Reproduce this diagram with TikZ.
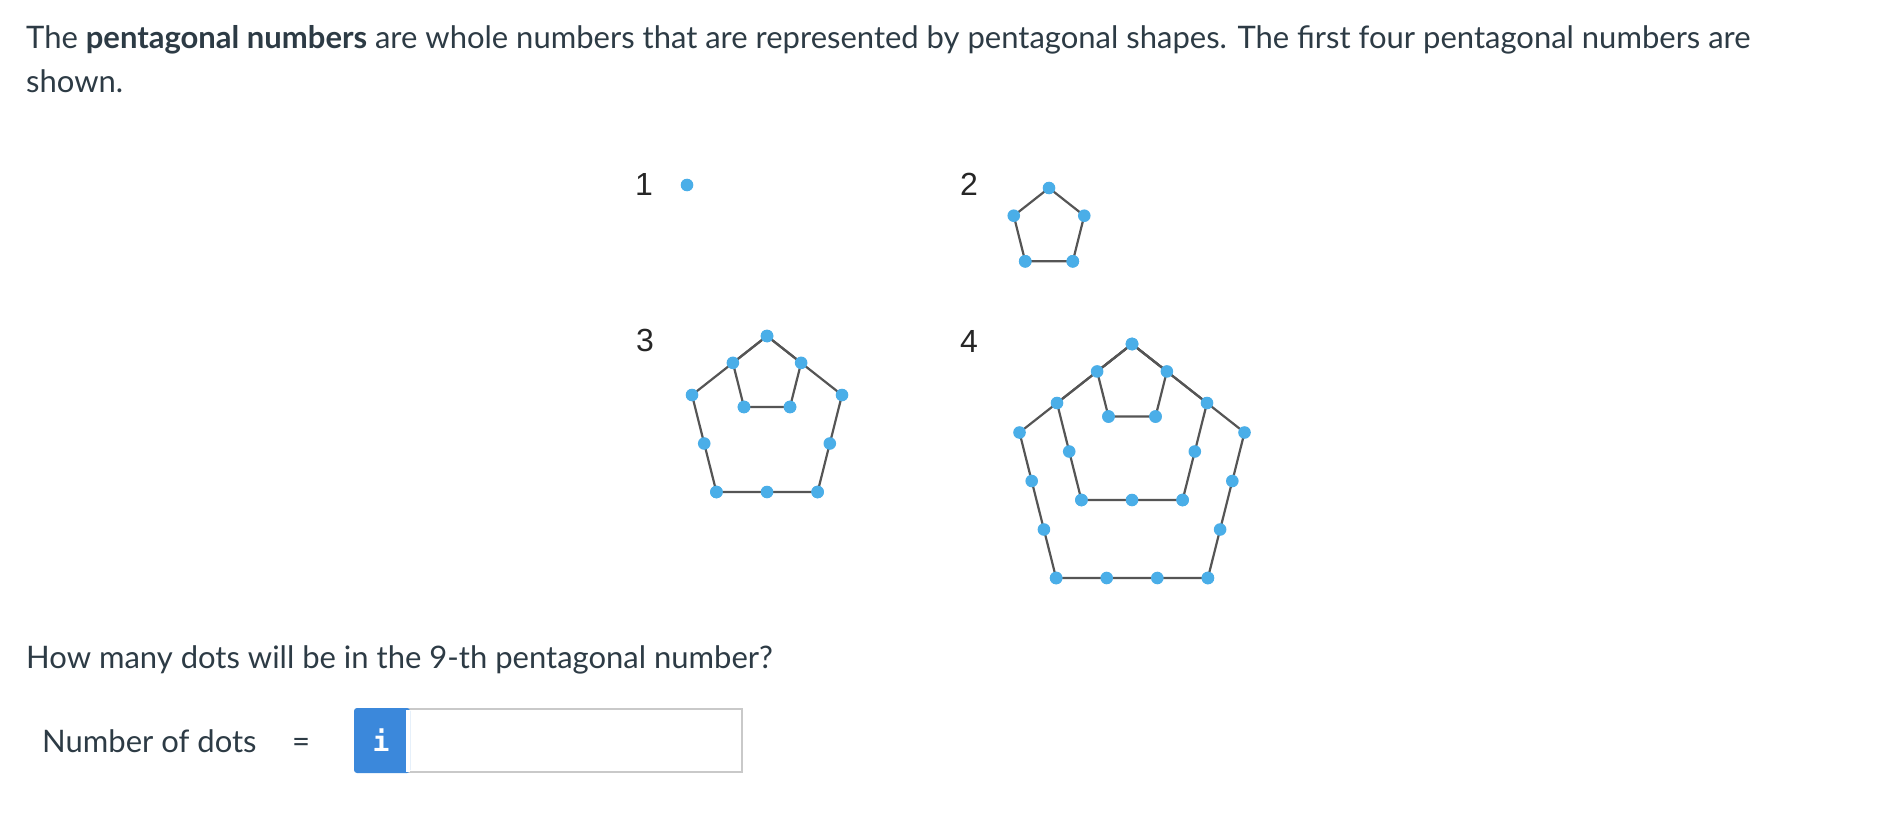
\documentclass[tikz,border=0pt]{standalone}
\usepackage{fontspec}
\setmainfont{Lato}
\newfontfamily\digitfont{Liberation Sans}
\newfontfamily\iconfont{DejaVu Sans Mono}
\usetikzlibrary{calc}
\definecolor{txt}{HTML}{2D3B45}
\definecolor{dotblue}{HTML}{4AAEE8}
\definecolor{edgegrey}{HTML}{555555}
\definecolor{btnblue}{HTML}{3B88DB}
\definecolor{boxgrey}{HTML}{C9C9C9}
\tikzset{
  txtnode/.style={anchor=base west, inner sep=0pt, text=txt, font=\fontsize{31}{36}\selectfont},
  numlabel/.style={anchor=center, inner sep=0pt, text=black!85, font=\digitfont\fontsize{32}{36}\selectfont},
  pedge/.style={draw=edgegrey, line width=2.2pt, line join=round},
  pdot/.style={fill=dotblue},
}
% ring geometry: #1,#2 top vertex, #3 order k, #4 scale
\newcommand\ringpts[4]{%
  \pgfmathtruncatemacro\nn{#3-1}%
  \coordinate (T) at (#1,#2);
  \coordinate (UL) at ($(T)+({-37.5*\nn*#4},{29.5*\nn*#4})$);
  \coordinate (UR) at ($(T)+({37.5*\nn*#4},{29.5*\nn*#4})$);
  \coordinate (BL) at ($(T)+({-25.3*\nn*#4},{78*\nn*#4})$);
  \coordinate (BR) at ($(T)+({25.3*\nn*#4},{78*\nn*#4})$);
}
\newcommand\ringedges[4]{%
  \ringpts{#1}{#2}{#3}{#4}
  \draw[pedge] (T) -- (UL) -- (BL) -- (BR) -- (UR) -- cycle;
}
% dots of a ring; the interior dots of its two upper edges are the corners of the inner rings
\newcommand\ringdots[4]{%
  \ringpts{#1}{#2}{#3}{#4}
  \fill[pdot] (T) circle[radius=6.3pt];
  \foreach \i in {0,...,\nn}{
    \fill[pdot] ($(UL)!\i/\nn!(BL)$) circle[radius=6.3pt];
    \fill[pdot] ($(BL)!\i/\nn!(BR)$) circle[radius=6.3pt];
    \fill[pdot] ($(BR)!\i/\nn!(UR)$) circle[radius=6.3pt];
  }
}
\begin{document}
\begin{tikzpicture}[x=1pt,y=-1pt]
\useasboundingbox (0,0) rectangle (1880,840);
\fill[white] (0,0) rectangle (1880,840);

% text
\node[txtnode] (l1) at (26,49) {The \textbf{pentagonal numbers} are whole numbers that are represented by pentagonal shapes. The first four pentagonal numbers are};
\node[txtnode] (l2) at (26,93) {shown.};
\node[txtnode] (q) at (26,668) {How many dots will be in the 9-th pentagonal number?};
\node[txtnode] (nd) at (42,752) {Number of dots};
\node[txtnode] (eq) at (292,752) {=};

% input box
\draw[draw=boxgrey, line width=2pt, fill=white] (404,709) rectangle (742,772);
\fill[btnblue, rounded corners=3pt] (354,708) rectangle (410,773);
\fill[btnblue] (400,708) rectangle (406,773);
\fill[white] (406,709.5) rectangle (410,771.5);
\node[anchor=center, inner sep=0pt, text=white, font=\iconfont\bfseries\fontsize{28}{28}\selectfont] (icon) at (381,740) {i};

% labels
\node[numlabel] (n1) at (644,184) {1};
\node[numlabel] (n2) at (969,184) {2};
\node[numlabel] (n3) at (645,340) {3};
\node[numlabel] (n4) at (969,341) {4};

% figure 1
\fill[pdot] (687,185) circle[radius=6.3pt];

% figure 2
\ringedges{1049}{188}{2}{0.94}
\ringdots{1049}{188}{2}{0.94}

% figure 3
\ringedges{767}{336}{2}{0.91}
\ringedges{767}{336}{3}{1}
\ringdots{767}{336}{2}{0.91}
\ringdots{767}{336}{3}{1}

% figure 4
\ringedges{1132}{344}{2}{0.93}
\ringedges{1132}{344}{3}{1}
\ringedges{1132}{344}{4}{1}
\ringdots{1132}{344}{2}{0.93}
\ringdots{1132}{344}{3}{1}
\ringdots{1132}{344}{4}{1}
\end{tikzpicture}
\end{document}
